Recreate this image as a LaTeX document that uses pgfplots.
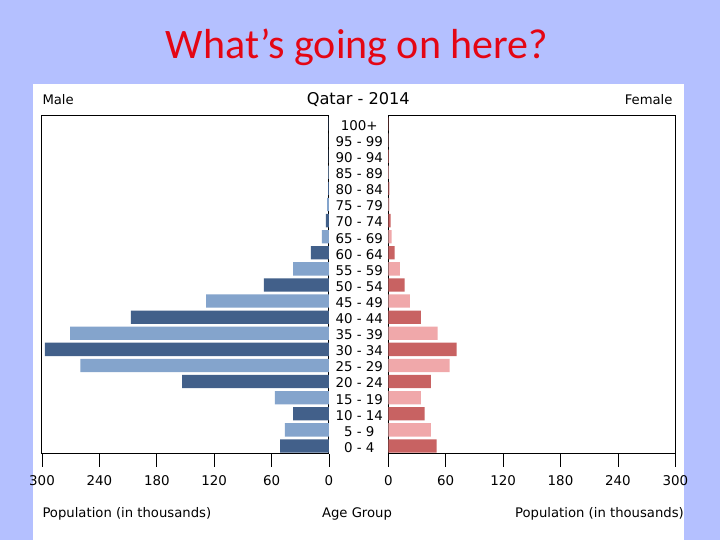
\documentclass[border=0pt]{standalone}
\usepackage{pgfplots}
\pgfplotsset{compat=1.18}
\usepackage{fontspec}
\setmainfont{DejaVu Sans}
\newfontfamily\titlefont{Carlito}
\definecolor{bgblue}{RGB}{180,192,255}
\definecolor{titlered}{RGB}{228,6,20}
\definecolor{mdark}{RGB}{66,96,138}
\definecolor{mlight}{RGB}{132,164,204}
\definecolor{fdark}{RGB}{200,98,98}
\definecolor{flight}{RGB}{240,168,170}
\pgfplotsset{
  pyr/.style={
    width=287pt, height=338pt, scale only axis,
    xbar, bar width=13.3pt, bar shift=0pt,
    xmin=0, xmax=300, ymin=-0.5, ymax=20.5,
    xtick={0,60,...,300}, xtick pos=bottom,
    tick align=outside, major tick length=13pt,
    axis line style={line width=1pt, black},
    every tick/.style={black, line width=0.8pt},
    /pgf/number format/assume math mode=true,
    xticklabel style={font=\fontsize{13.4}{16}\selectfont, yshift=-5pt},
    clip=false,
  }
}
\begin{document}
\begin{tikzpicture}[x=1pt,y=1pt]
\fill[bgblue] (0,0) rectangle (720,540);
\fill[white] (32.5,0) rectangle (683.5,456);
\node[anchor=base, text=titlered, font=\titlefont\fontsize{42}{48}\selectfont, inner sep=0] at (357,481.7) {What’s going on here?};
\node[anchor=base west, inner sep=0, font=\fontsize{13.2}{15}\selectfont] at (42.3,435) {Male};
\node[anchor=base, inner sep=0, font=\fontsize{16.2}{19}\selectfont] at (358.3,435) {Qatar - 2014};
\node[anchor=base east, inner sep=0, font=\fontsize{13.2}{15}\selectfont] at (672.7,435) {Female};
\node[anchor=base west, inner sep=0, font=\fontsize{13.2}{15}\selectfont] at (42.3,22.7) {Population (in thousands)};
\node[anchor=base, inner sep=0, font=\fontsize{13.2}{15}\selectfont] at (357,22.7) {Age Group};
\node[anchor=base east, inner sep=0, font=\fontsize{13.2}{15}\selectfont] at (684,22.7) {Population (in thousands)};

\begin{axis}[pyr, at={(42pt,86pt)}, anchor=south west, x dir=reverse, ytick=\empty]
\addplot[fill=mdark, draw=none] coordinates {
(51,0) (37.5,2) (153.5,4) (297,6) (207,8) (68,10) (19,12) (3.2,14) (1,16) (0.4,18) (0.3,20)};
\addplot[fill=mlight, draw=none] coordinates {
(46,1) (56.5,3) (260,5) (270.5,7) (128.5,9) (37.5,11) (7.5,13) (2,15) (0.6,17) (0.2,19)};
\end{axis}

\begin{axis}[pyr, at={(388.3pt,86pt)}, anchor=south west,
  ytick={0,...,20}, ytick pos=left, ytick style={draw=none},
  yticklabels={0 - 4,5 - 9,10 - 14,15 - 19,20 - 24,25 - 29,30 - 34,35 - 39,40 - 44,45 - 49,50 - 54,55 - 59,60 - 64,65 - 69,70 - 74,75 - 79,80 - 84,85 - 89,90 - 94,95 - 99,100+},
  yticklabel style={font=\fontsize{13.4}{16}\selectfont, anchor=center, xshift=-16pt, yshift=-1.5pt}]
\addplot[fill=fdark, draw=none] coordinates {
(50.5,0) (38,2) (44.5,4) (71.5,6) (34,8) (17,10) (6.5,12) (2.5,14) (1,16) (0.5,18) (0.3,20)};
\addplot[fill=flight, draw=none] coordinates {
(44.5,1) (34,3) (64,5) (51.5,7) (22.5,9) (12,11) (3.5,13) (1.2,15) (0.7,17) (0.3,19)};
\end{axis}
\end{tikzpicture}
\end{document}
